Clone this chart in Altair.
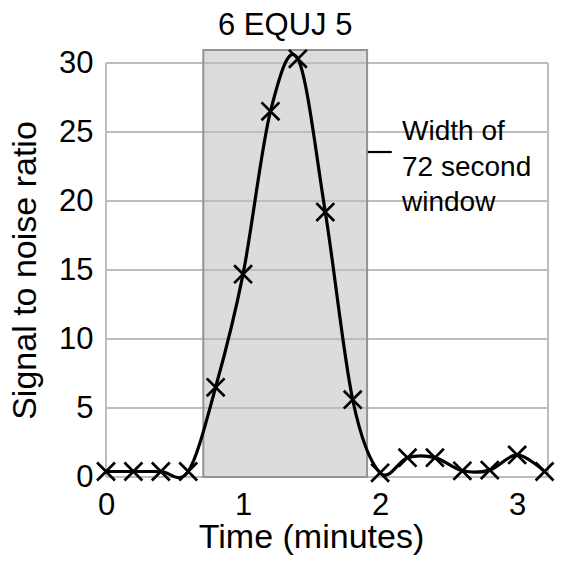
import altair as alt
import pandas as pd

# ---- data ----
time_min = [0.0, 0.2, 0.4, 0.6, 0.8, 1.0, 1.2, 1.4, 1.6, 1.8,
            2.0, 2.2, 2.4, 2.6, 2.8, 3.0, 3.2]
snr = [0.4, 0.4, 0.4, 0.4, 6.5, 14.7, 26.5, 30.3, 19.2, 5.6,
       0.3, 1.4, 1.4, 0.45, 0.5, 1.6, 0.4]
x_ticks = [0, 1, 2, 3]
y_ticks = [0, 5, 10, 15, 20, 25, 30]
x_range = [0, 3.225]
y_range = [0, 30]
window = [0.71, 1.905]          # 72-second window (minutes)
window_top = 30.95
title_text = "6 EQUJ 5"
note_lines = ["Width of", "72 second", "window"]

FONT = "Liberation Sans"
GRID = "#bdbdbd"

xs = alt.Scale(domain=x_range, nice=False, zero=False)
ys = alt.Scale(domain=y_range, nice=False, zero=False)

df = pd.DataFrame({"t": time_min, "snr": snr})
one = pd.DataFrame({"k": [0]})
shade_df = pd.DataFrame({"x": [window[0]], "x2": [window[1]],
                         "y": [0], "y2": [window_top]})
grid_df = pd.DataFrame({"y": y_ticks, "x": x_range[0], "x2": x_range[1]})
frame_df = pd.DataFrame({"x": x_range, "y": y_range[0], "y2": y_range[1]})

x_axis = alt.Axis(values=x_ticks, format="d", grid=False, domain=False,
                  ticks=False, labelPadding=13, labelFlush=False,
                  titleX=205, titleY=70, titleAlign="center",
                  titleBaseline="alphabetic")
y_axis = alt.Axis(values=y_ticks, format="d", grid=False, domain=False,
                  ticks=False, labelPadding=13, labelFlush=False,
                  titleAngle=270, titleX=-71, titleY=207,
                  titleAlign="center", titleBaseline="alphabetic")

XT = "Time (minutes)"
YT = "Signal to noise ratio"

shade = alt.Chart(shade_df).mark_rect(color="#dcdcdc").encode(
    x=alt.X("x:Q", scale=xs, axis=x_axis, title=XT), x2="x2",
    y=alt.Y("y:Q", scale=ys, axis=y_axis, title=YT), y2="y2")

grid = alt.Chart(grid_df).mark_rule(color=GRID, strokeWidth=2).encode(
    x=alt.X("x:Q", scale=xs, title=XT), x2="x2",
    y=alt.Y("y:Q", scale=ys, title=YT))

frame = alt.Chart(frame_df).mark_rule(color=GRID, strokeWidth=2).encode(
    x=alt.X("x:Q", scale=xs, title=XT),
    y=alt.Y("y:Q", scale=ys, title=YT), y2="y2")

shade_border = alt.Chart(shade_df).mark_rect(
    fillOpacity=0, stroke="#939393", strokeWidth=2).encode(
    x=alt.X("x:Q", scale=xs, title=XT), x2="x2",
    y=alt.Y("y:Q", scale=ys, title=YT), y2="y2")

line = alt.Chart(df).mark_line(color="black", strokeWidth=3.2,
                               interpolate="cardinal").encode(
    x=alt.X("t:Q", scale=xs, title=XT),
    y=alt.Y("snr:Q", scale=ys, title=YT))

points = alt.Chart(df).mark_point(
    shape="M-1,-1L1,1M-1,1L1,-1", size=320, filled=False,
    stroke="black", strokeWidth=2.7, opacity=1).encode(
    x=alt.X("t:Q", scale=xs, title=XT),
    y=alt.Y("snr:Q", scale=ys, title=YT))

title = alt.Chart(one).mark_text(
    text=title_text, font=FONT, fontSize=31, color="black",
    align="center", baseline="alphabetic").encode(
    x=alt.XDatum(sum(window) / 2, title=XT),
    y=alt.YDatum(32.05, title=YT))

note_tick = alt.Chart(one).mark_rule(color="black", strokeWidth=2.2).encode(
    x=alt.XDatum(1.91, title=XT), x2=alt.X2Datum(2.085),
    y=alt.YDatum(23.55, title=YT))

note = alt.Chart(one).mark_text(
    text=note_lines, font=FONT, fontSize=28, lineHeight=35.5, color="black",
    align="left", baseline="alphabetic").encode(
    x=alt.XDatum(2.16, title=XT), y=alt.YDatum(24.4, title=YT))

chart = alt.layer(shade, grid, frame, shade_border, line, points,
                  title, note_tick, note).properties(
    width=442, height=414,
    autosize=alt.AutoSizeParams(type="none"),
    padding={"left": 98, "top": 55, "right": 14, "bottom": 80},
    background="white",
).configure_view(stroke=None).configure_axis(
    grid=False, domain=False, ticks=False, labelFlush=False,
    labelFont=FONT, labelFontSize=31, labelColor="black",
    titleFont=FONT, titleFontSize=34, titleFontWeight="normal",
    titleColor="black",
)

chart.save("out.html", embed_options={"renderer": "svg", "actions": False})
